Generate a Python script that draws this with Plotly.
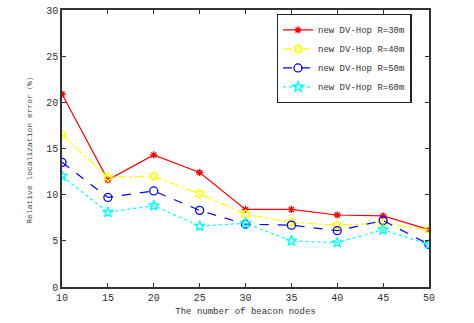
import plotly.graph_objects as go

# Number of beacon nodes
beacons = [10, 15, 20, 25, 30, 35, 40, 45, 50]

# Relative localization error (%) for each communication radius
err_r30 = [20.9, 11.6, 14.3, 12.4, 8.4, 8.4, 7.8, 7.7, 6.2]
err_r40 = [16.5, 11.9, 12.0, 10.1, 7.9, 7.0, 6.7, 6.9, 6.2]
err_r50 = [13.5, 9.7, 10.4, 8.3, 6.8, 6.7, 6.1, 7.2, 4.6]
err_r60 = [12.0, 8.1, 8.8, 6.6, 6.9, 5.0, 4.8, 6.2, 4.6]

series_names = [
    "new DV-Hop R=30m",
    "new DV-Hop R=40m",
    "new DV-Hop R=50m",
    "new DV-Hop R=60m",
]

x_ticks = [10, 15, 20, 25, 30, 35, 40, 45, 50]
y_ticks = [0, 5, 10, 15, 20, 25, 30]

styles = [
    dict(color="#ff0000", dash="solid", symbol="asterisk-open", size=6),
    dict(color="#ffff00", dash="dashdot", symbol="hexagram-open", size=7),
    dict(color="#0000ff", dash="dash", symbol="circle-open", size=8),
    dict(color="#00ffff", dash="dot", symbol="star-open", size=8),
]

fig = go.Figure()
for name, ys, st in zip(series_names, [err_r30, err_r40, err_r50, err_r60], styles):
    fig.add_trace(go.Scatter(
        x=beacons, y=ys, name=name, mode="lines+markers",
        line=dict(color=st["color"], width=1.2, dash=st["dash"]),
        marker=dict(symbol=st["symbol"], size=st["size"], color=st["color"],
                    line=dict(color=st["color"], width=1.3)),
    ))

mono = "Liberation Mono"
axis_common = dict(
    showgrid=False, zeroline=False, showline=True, mirror="ticks",
    linecolor="#333333", linewidth=1.6, ticks="inside", ticklen=4,
    tickcolor="#333333", tickfont=dict(family=mono, size=10, color="#333333"),
)

fig.update_layout(
    width=474, height=323,
    margin=dict(l=62, r=45, t=5, b=36),
    paper_bgcolor="white", plot_bgcolor="white",
    showlegend=True,
    legend=dict(
        x=0.585, y=0.985, xanchor="left", yanchor="top",
        bgcolor="white", bordercolor="#222222", borderwidth=1.3,
        font=dict(family=mono, size=9, color="#333333"),
        tracegroupgap=0, itemwidth=30,
    ),
    xaxis=dict(range=[10, 50], tickvals=x_ticks, **axis_common,
               title=dict(text="The number of beacon nodes",
                          font=dict(family=mono, size=9, color="#333333"),
                          standoff=5)),
    yaxis=dict(range=[0, 30], tickvals=y_ticks, **axis_common,
               title=dict(text="Relative localization error（%）",
                          font=dict(family=mono, size=8, color="#444444"),
                          standoff=12)),
)

fig.write_html("out.html")
